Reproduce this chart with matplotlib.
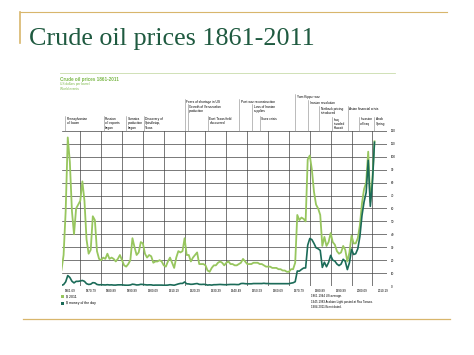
import matplotlib
matplotlib.use("Agg")
import matplotlib.pyplot as plt
import matplotlib.transforms as mtransforms
from matplotlib.lines import Line2D
from matplotlib.patches import Rectangle

# annual crude oil prices, US dollars per barrel, 1861-2011
years = list(range(1861, 2012))
price_2011 = [
    12.5, 24, 58, 115, 96, 58, 40, 60, 63, 66,
    81, 66, 36, 25, 28, 54, 51, 27, 21, 20,
    22, 21, 25, 21, 22, 21, 19, 21, 24, 20,
    16, 15, 17, 20, 37, 30, 24, 26, 34, 33,
    25, 22, 24, 23, 18, 19, 19, 20, 19, 16,
    15, 19, 22, 18, 14, 22, 27, 26, 27, 37,
    24, 24, 19, 22, 24, 26, 17, 17, 17, 16,
    12, 11, 14, 16, 16, 18, 19, 18, 16, 18,
    19, 17, 17, 16, 16, 17, 18, 21, 19, 17,
    17, 17, 18, 18, 18, 17, 17, 16, 15, 15,
    15, 14, 14, 14, 13, 13, 12, 12, 11, 11,
    13, 13, 18, 55, 51, 53, 52, 50, 98, 101,
    90, 73, 63, 60, 55, 31, 38, 31, 34, 41,
    34, 32, 27, 25, 26, 31, 28, 19, 26, 39,
    33, 33, 37, 47, 64, 75, 80, 104, 65, 83,
    112,
]
price_nominal = [
    0.5, 1.1, 3.2, 8.1, 6.6, 3.7, 2.4, 3.6, 3.6, 3.9,
    4.3, 3.6, 1.8, 1.2, 1.4, 2.6, 2.4, 1.2, 0.9, 1.0,
    0.9, 0.8, 1.0, 0.8, 0.9, 0.7, 0.7, 0.9, 0.9, 0.9,
    0.7, 0.6, 0.6, 0.8, 1.4, 1.2, 0.8, 0.9, 1.3, 1.2,
    1.0, 0.8, 0.9, 0.9, 0.6, 0.7, 0.7, 0.7, 0.7, 0.6,
    0.6, 0.7, 1.0, 0.8, 0.6, 1.1, 1.6, 2.0, 2.0, 3.1,
    1.7, 1.6, 1.3, 1.4, 1.7, 1.9, 1.3, 1.2, 1.3, 1.2,
    0.7, 0.9, 0.7, 1.0, 1.0, 1.1, 1.2, 1.1, 1.0, 1.0,
    1.1, 1.2, 1.2, 1.2, 1.1, 1.1, 1.9, 2.0, 1.8, 1.7,
    1.7, 1.7, 1.9, 1.9, 1.9, 1.9, 1.9, 2.1, 1.9, 1.9,
    1.8, 1.8, 1.8, 1.8, 1.8, 1.8, 1.8, 1.8, 1.8, 1.8,
    2.2, 2.5, 3.3, 11.6, 11.5, 12.8, 13.9, 14.0, 31.6, 36.8,
    35.9, 33.0, 29.6, 28.8, 27.6, 14.4, 18.4, 14.9, 18.2, 23.7,
    20.0, 19.3, 17.0, 15.8, 17.0, 20.7, 19.1, 12.7, 18.0, 28.5,
    24.4, 25.0, 28.8, 38.3, 54.5, 65.1, 72.4, 97.3, 61.7, 79.5,
    111.3,
]
decade_labels = ["1861-69"] + ["%d-%s" % (d, str(d + 9)[2:]) for d in range(1870, 2011, 10)]

event_labels = [
    "Pennsylvanian\noil boom", "Russian\noil exports\nbegan", "Sumatra\nproduction\nbegan",
    "Discovery of\nSpindletop,\nTexas", "Fears of shortage in US",
    "Growth of Venezuelan\nproduction", "East Texas field\ndiscovered",
    "Post-war reconstruction", "Loss of Iranian\nsupplies", "Suez crisis",
    "Yom Kippur war", "Iranian revolution", "Netback pricing\nintroduced",
    "Iraq\ninvaded\nKuwait", "Asian financial crisis", "Invasion\nof Iraq", "Arab\nSpring",
]
event_years = [1862.8, 1881.2, 1891.9, 1900.4, 1920.2, 1921.5, 1931.2,
               1946.1, 1952.4, 1955.9, 1973.1, 1979.2, 1984.6,
               1990.7, 1998.2, 2003.5, 2010.9]
event_top = [117, 117, 117, 117, 99.5, 105, 117, 100, 105, 117,
             95, 100.5, 107, 117.5, 107, 117.5, 117.5]

notes = ["1861-1944 US average.",
         "1945-1983 Arabian Light posted at Ras Tanura.",
         "1984-2011 Brent dated."]

LIGHT = "#97c65e"
DARK = "#1b6b58"
HEAD = "#7cb84a"
GOLD = "#d8b66c"
SANS = "Liberation Sans"

W, H = 474, 355


def fx(px):
    return px / W


def fy(py):
    return 1 - py / H


fig = plt.figure(figsize=(W / 100, H / 100), dpi=100)

# slide frame and title
fig.add_artist(Line2D([fx(20), fx(447)], [fy(12), fy(12)], color=GOLD, lw=0.8))
fig.add_artist(Line2D([fx(20), fx(20)], [fy(12), fy(43)], color=GOLD, lw=1.2))
fig.add_artist(Line2D([fx(23), fx(450)], [fy(319), fy(319)], color=GOLD, lw=0.9))
fig.text(fx(29), fy(45), "Crude oil prices 1861-2011", family="Liberation Serif",
         fontsize=18.8, color="#1f5a40", va="baseline")

# chart header
fig.add_artist(Line2D([fx(60), fx(395)], [fy(73), fy(73)], color="#c9dcab", lw=0.6))
fig.text(fx(60), fy(76.5), "Crude oil prices 1861-2011", family=SANS, fontsize=3.3,
         weight="bold", color=HEAD, va="top")
fig.text(fx(60), fy(82.5), "US dollars per barrel", family=SANS, fontsize=2.3, color=HEAD, va="top")
fig.text(fx(60), fy(87.5), "World events", family=SANS, fontsize=2.3, color=HEAD, va="top")

ax = fig.add_axes([fx(61.5), fy(286), fx(387) - fx(61.5), fy(131) - fy(286)])
ax.plot(years, price_2011, color=LIGHT, lw=1.3)
ax.plot(years, price_nominal, color=DARK, lw=1.2)
ax.set_xlim(1861, 2017)
ax.set_ylim(0, 120)
for s in ax.spines.values():
    s.set_visible(False)
ax.set_axisbelow(True)

ax.set_yticks(range(0, 121, 10))
ax.yaxis.tick_right()
ax.tick_params(axis="y", length=0, pad=3, labelsize=2.2)
ax.set_xticks([1865 + 10 * i for i in range(len(decade_labels))])
ax.set_xticklabels(decade_labels)
ax.set_xticks(range(1870, 2011, 10), minor=True)
ax.tick_params(axis="x", which="both", length=0, pad=2, labelsize=2.2)
for lab in ax.get_xticklabels() + ax.get_yticklabels():
    lab.set_family(SANS)
ax.grid(axis="y", which="major", color="#444444", lw=0.5)
ax.grid(axis="x", which="minor", color="#444444", lw=0.5)

# world events
trans = mtransforms.blended_transform_factory(ax.transData, fig.transFigure)
for label, yr, top in zip(event_labels, event_years, event_top):
    fig.add_artist(Line2D([yr, yr], [fy(top - 1), fy(131)], transform=trans,
                          color="#888888", lw=0.4))
    fig.text(yr + 0.7, fy(top), label, transform=trans, family=SANS, fontsize=2.3,
             va="top", ha="left", linespacing=1.1)

# legend
fig.add_artist(Rectangle((fx(61), fy(298)), 2.6 / W, 2.6 / H, transform=fig.transFigure,
                         color=LIGHT, lw=0))
fig.add_artist(Rectangle((fx(61), fy(304.5)), 2.6 / W, 2.6 / H, transform=fig.transFigure,
                         color=DARK, lw=0))
fig.text(fx(66), fy(296.7), "$ 2011", family=SANS, fontsize=2.5, va="center")
fig.text(fx(66), fy(303.2), "$ money of the day", family=SANS, fontsize=2.5, va="center")

fig.text(fx(311), fy(294.5), "\n".join(notes), family=SANS, fontsize=2.1, va="top",
         linespacing=1.35)

fig.savefig("out.png", dpi=100)
